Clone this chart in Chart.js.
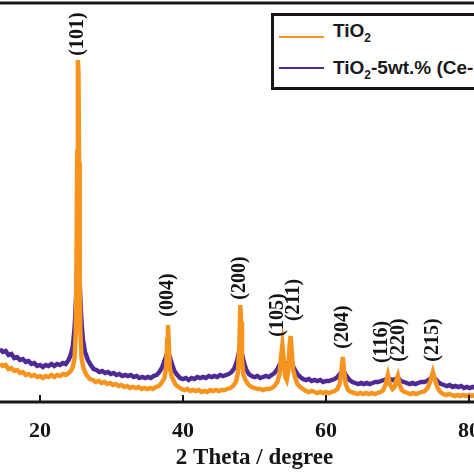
<!DOCTYPE html>
<html>
<head>
<meta charset="utf-8">
<script src="https://cdn.jsdelivr.net/npm/chart.js@4"></script>
<style>
body { margin: 0; overflow: hidden; background: #fff; width: 474px; height: 474px; position: relative; }
#xrd { position: absolute; left: -60px; top: 0; }
.legend { position: absolute; left: 271px; top: 13px; width: 260px; height: 71px; border: 3px solid #1a1414; background: #fff;
  font: bold 19px "Liberation Sans", Arial, sans-serif; color: #1a1a1a; }
.legend .sw { position: absolute; left: 5px; width: 45px; height: 2px; }
.legend .txt { position: absolute; left: 59px; line-height: 20px; white-space: nowrap; }
.legend sub { font-size: 12px; vertical-align: -5px; line-height: 0; }
</style>
</head>
<body>
<canvas id="xrd" width="620" height="474"></canvas>
<div class="legend">
  <div class="sw" style="top:20px;background:#f7941d"></div>
  <div class="txt" style="top:5px">TiO<sub>2</sub></div>
  <div class="sw" style="top:51px;background:#4e2a96"></div>
  <div class="txt" style="top:42px">TiO<sub>2</sub>-5wt.% (Ce-N)</div>
</div>
<script>
// x ticks shown on the axis
const xTicks = [20, 40, 60, 80];

// TiO2 (orange) pattern, 2 theta / intensity (a.u.)
const tioTheta = [14.4, 14.8, 15.2, 15.6, 16.0, 16.4, 16.8, 17.2, 17.6, 18.0, 18.4, 18.8, 19.2, 19.6, 20.0, 20.4, 20.8, 21.2, 21.6, 22.0,
  22.4, 22.8, 23.2, 23.6, 24.0, 24.3, 24.6, 24.85, 25.0, 25.1, 25.2, 25.3, 25.38, 25.46, 25.55, 25.65, 25.8, 26.0, 26.3, 26.6,
  27.0, 27.4, 27.8, 28.2, 28.6, 29.0, 29.4, 29.8, 30.2, 30.6, 31.0, 31.4, 31.8, 32.2, 32.6, 33.0, 33.4, 33.8, 34.2, 34.6,
  35.0, 35.4, 35.8, 36.2, 36.6, 37.0, 37.4, 37.65, 37.8, 37.9, 38.0, 38.15, 38.4, 38.7, 39.0, 39.4, 39.8, 40.2, 40.6, 41.0,
  41.4, 41.8, 42.2, 42.6, 43.0, 43.4, 43.8, 44.2, 44.6, 45.0, 45.4, 45.8, 46.2, 46.6, 47.0, 47.4, 47.7, 47.9, 48.02, 48.12,
  48.25, 48.45, 48.8, 49.2, 49.6, 50.0, 50.4, 50.8, 51.2, 51.6, 52.0, 52.4, 52.8, 53.2, 53.5, 53.75, 53.9, 54.05, 54.3, 54.5,
  54.7, 54.9, 55.05, 55.2, 55.4, 55.7, 56.0, 56.4, 56.8, 57.2, 57.6, 58.0, 58.4, 58.8, 59.2, 59.6, 60.0, 60.4, 60.8, 61.2,
  61.6, 61.9, 62.15, 62.35, 62.5, 62.75, 63.1, 63.5, 64.0, 64.4, 64.8, 65.2, 65.6, 66.0, 66.4, 66.8, 67.2, 67.6, 68.0, 68.35,
  68.65, 68.95, 69.3, 69.6, 69.85, 70.05, 70.3, 70.6, 71.0, 71.4, 71.8, 72.2, 72.6, 73.0, 73.4, 73.8, 74.2, 74.6, 74.95, 75.25,
  75.6, 76.0, 76.4, 76.8, 77.2, 77.6, 78.0, 78.4, 78.8, 79.2, 79.6, 80.0, 80.4, 80.8, 81.2];
const tioCounts = [38, 36, 37, 33, 34, 31, 32, 29, 30, 27, 28, 26, 27, 25, 26, 24, 26, 25, 27, 25,
  27, 26, 28, 27, 29, 31, 35, 45, 70, 130, 250, 342, 330, 240, 130, 70, 45, 36, 30, 26,
  23, 22, 20, 21, 19, 20, 18, 19, 17, 18, 16, 17, 15, 16, 14, 15, 14, 15, 13, 14,
  13, 14, 13, 15, 16, 19, 24, 35, 62, 77, 60, 34, 26, 21, 17, 15, 13, 12, 13, 11,
  12, 11, 12, 10, 11, 10, 12, 11, 12, 11, 12, 12, 13, 14, 16, 20, 30, 60, 97, 80,
  42, 27, 21, 17, 15, 14, 13, 13, 12, 13, 13, 14, 16, 20, 28, 48, 57, 45, 25, 22,
  30, 55, 66, 52, 32, 24, 18, 15, 13, 11, 10, 11, 10, 9, 10, 9, 10, 9, 10, 11,
  13, 18, 30, 45, 32, 18, 12, 10, 9, 8, 9, 8, 9, 8, 9, 8, 9, 10, 12, 18,
  27, 17, 13, 15, 22, 26, 17, 12, 10, 9, 8, 9, 8, 9, 10, 11, 14, 21, 30, 22,
  14, 10, 8, 7, 8, 7, 6, 7, 6, 7, 6, 7, 6, 7, 6];

// TiO2-5wt.% (Ce-...) (purple) pattern
const ceTheta = [14.4, 14.8, 15.2, 15.6, 16.0, 16.4, 16.8, 17.2, 17.6, 18.0, 18.4, 18.8, 19.2, 19.6, 20.0, 20.4, 20.8, 21.2, 21.6, 22.0,
  22.4, 22.8, 23.2, 23.6, 24.0, 24.3, 24.6, 24.85, 25.05, 25.2, 25.33, 25.45, 25.6, 25.8, 26.0, 26.3, 26.7, 27.1, 27.5, 27.9,
  28.3, 28.7, 29.1, 29.5, 29.9, 30.3, 30.7, 31.1, 31.5, 31.9, 32.3, 32.7, 33.1, 33.5, 33.9, 34.3, 34.7, 35.1, 35.5, 35.9,
  36.3, 36.7, 37.1, 37.45, 37.75, 37.95, 38.2, 38.5, 38.8, 39.2, 39.6, 40.0, 40.4, 40.8, 41.2, 41.6, 42.0, 42.4, 42.8, 43.2,
  43.6, 44.0, 44.4, 44.8, 45.2, 45.6, 46.0, 46.4, 46.8, 47.2, 47.55, 47.85, 48.05, 48.25, 48.5, 48.8, 49.2, 49.6, 50.0, 50.4,
  50.8, 51.2, 51.6, 52.0, 52.4, 52.8, 53.2, 53.5, 53.8, 54.1, 54.4, 54.7, 55.0, 55.3, 55.6, 56.0, 56.4, 56.8, 57.2, 57.6,
  58.0, 58.4, 58.8, 59.2, 59.6, 60.0, 60.4, 60.8, 61.2, 61.6, 61.95, 62.3, 62.6, 62.95, 63.3, 63.7, 64.1, 64.5, 64.9, 65.3,
  65.7, 66.1, 66.5, 66.9, 67.3, 67.7, 68.1, 68.5, 68.9, 69.3, 69.7, 70.1, 70.5, 70.9, 71.3, 71.7, 72.1, 72.5, 72.9, 73.3,
  73.7, 74.1, 74.5, 74.9, 75.3, 75.7, 76.1, 76.5, 76.9, 77.3, 77.7, 78.1, 78.5, 78.9, 79.3, 79.7, 80.1, 80.5, 80.9, 81.3];
const ceCounts = [53, 50, 51, 47, 48, 44, 45, 42, 43, 40, 41, 38, 39, 36, 37, 35, 37, 36, 38, 36,
  38, 37, 39, 38, 42, 47, 56, 75, 105, 135, 147, 138, 110, 80, 62, 50, 42, 37, 33, 32,
  30, 31, 29, 30, 28, 29, 27, 28, 26, 27, 26, 27, 25, 26, 24, 25, 24, 25, 24, 26,
  27, 30, 35, 42, 48, 49, 44, 37, 31, 27, 24, 23, 24, 22, 24, 23, 25, 24, 25, 24,
  26, 25, 26, 25, 27, 26, 27, 28, 30, 34, 41, 50, 52, 48, 40, 33, 28, 26, 25, 26,
  24, 25, 26, 25, 27, 29, 33, 37, 40, 39, 38, 39, 40, 37, 33, 28, 25, 23, 22, 23,
  21, 22, 21, 22, 20, 21, 21, 22, 23, 25, 28, 31, 29, 25, 22, 20, 19, 18, 19, 18,
  19, 18, 19, 20, 20, 21, 22, 23, 23, 22, 23, 24, 21, 20, 19, 18, 19, 18, 19, 20,
  20, 21, 23, 25, 23, 20, 18, 17, 16, 17, 15, 16, 15, 16, 14, 15, 14, 15, 14, 14];

// peak indexing labels
const peakNames = ['(101)', '(004)', '(200)', '(105)', '(211)', '(204)', '(116)', '(220)', '(215)'];
const peakTheta = [25.3, 37.9, 48.0, 53.2, 55.5, 62.4, 67.8, 70.2, 75.0];
const peakLevel = [368, 107, 124, 87, 102, 75, 60, 62, 62];

const orange = '#f7941d';
const purple = '#4e2a96';

function toPoints(xs, ys) {
    return xs.map((v, i) => ({ x: v, y: ys[i] }));
}

// top frame line, bottom axis line and inward ticks
const framePlugin = {
    id: 'frame',
    afterDatasetsDraw(chart) {
        const { ctx, chartArea, scales } = chart;
        ctx.save();
        ctx.strokeStyle = '#1a1414';
        ctx.lineWidth = 3;
        ctx.beginPath();
        ctx.moveTo(chartArea.left, chartArea.top);
        ctx.lineTo(chartArea.right, chartArea.top);
        ctx.moveTo(chartArea.left, chartArea.bottom);
        ctx.lineTo(chartArea.right, chartArea.bottom);
        ctx.stroke();
        ctx.lineWidth = 2;
        ctx.beginPath();
        xTicks.forEach(t => {
            const px = Math.round(scales.x.getPixelForValue(t));
            ctx.moveTo(px, chartArea.bottom);
            ctx.lineTo(px, chartArea.bottom - 7);
        });
        ctx.stroke();
        ctx.restore();
    }
};

const peakLabelPlugin = {
    id: 'peakLabels',
    afterDatasetsDraw(chart) {
        const { ctx, scales } = chart;
        ctx.save();
        ctx.font = 'bold 20px "Liberation Serif"';
        ctx.fillStyle = '#151515';
        ctx.textAlign = 'center';
        ctx.textBaseline = 'middle';
        peakNames.forEach((name, i) => {
            ctx.save();
            ctx.translate(scales.x.getPixelForValue(peakTheta[i]), scales.y.getPixelForValue(peakLevel[i]));
            ctx.rotate(-Math.PI / 2);
            ctx.fillText(name, 0, 0);
            ctx.restore();
        });
        ctx.restore();
    }
};

new Chart(document.getElementById('xrd'), {
    type: 'line',
    data: {
        datasets: [{
            label: 'TiO2',
            data: toPoints(tioTheta, tioCounts),
            borderColor: orange,
            borderWidth: 4.5,
            pointRadius: 0,
            tension: 0
        }, {
            label: 'TiO2-5wt.% (Ce-N)',
            data: toPoints(ceTheta, ceCounts),
            borderColor: purple,
            borderWidth: 4.5,
            pointRadius: 0,
            tension: 0
        }]
    },
    options: {
        responsive: false,
        animation: false,
        layout: { padding: { left: 28.5, right: 19.5, top: 3, bottom: 2 } },
        plugins: {
            legend: { display: false },
            tooltip: { enabled: false }
        },
        scales: {
            x: {
                type: 'linear',
                min: 10,
                max: 90,
                afterBuildTicks: axis => { axis.ticks = xTicks.map(v => ({ value: v })); },
                grid: { display: false, drawTicks: true, tickLength: 16 },
                border: { display: false },
                ticks: {
                    padding: 0,
                    color: '#151515',
                    font: { family: 'Liberation Serif', size: 22, weight: 'bold' }
                },
                title: {
                    display: true,
                    text: '2 Theta / degree',
                    color: '#151515',
                    padding: { top: 0, bottom: 0 },
                    font: { family: 'Liberation Serif', size: 23, weight: 'bold' }
                }
            },
            y: {
                display: false,
                min: 0,
                max: 399
            }
        }
    },
    plugins: [framePlugin, peakLabelPlugin]
});
</script>
</body>
</html>
